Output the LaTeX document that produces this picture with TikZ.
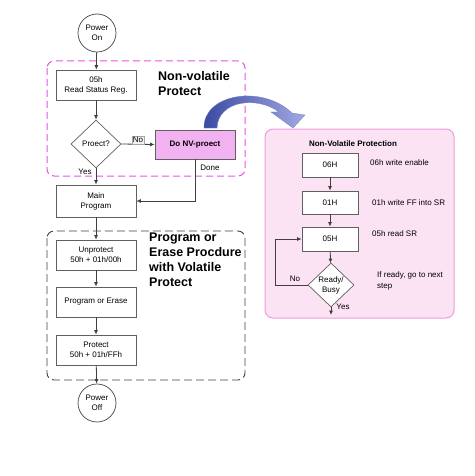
\documentclass[tikz,border=0pt]{standalone}
\usepackage{fontspec}
\setmainfont{Liberation Sans}
\usetikzlibrary{arrows.meta,shapes.geometric,calc}
\definecolor{lineg}{HTML}{404040}
\definecolor{boxg}{HTML}{606060}
\definecolor{nvpink}{HTML}{F2B2F2}
\definecolor{panelfill}{HTML}{FCE3F4}
\definecolor{paneldraw}{HTML}{EE9ADF}
\definecolor{magdash}{HTML}{E455E4}
\definecolor{arrdark}{HTML}{3A4AA2}
\definecolor{arrlight}{HTML}{A2A8E2}
\tikzset{
  box/.style={draw=boxg, line width=0.7pt, rectangle, minimum width=80pt, minimum height=30pt, align=center, inner sep=1pt, font=\fontsize{8}{10}\selectfont},
  sbox/.style={draw=boxg, line width=0.7pt, rectangle, minimum width=56pt, minimum height=24pt, align=center, inner sep=1pt, font=\fontsize{8}{10}\selectfont, fill=white},
  term/.style={draw=lineg, line width=0.7pt, circle, minimum size=38pt, inner sep=0pt, align=center, font=\fontsize{8}{10}\selectfont},
  dec/.style={draw=boxg, line width=0.7pt, diamond, inner sep=0pt, align=center, font=\fontsize{8}{10}\selectfont},
  arr/.style={draw=lineg, line width=0.8pt, -{Latex[length=4.5pt,width=4pt]}},
  lbl/.style={font=\fontsize{8}{10}\selectfont, inner sep=0pt},
  ttl/.style={font=\fontsize{12.5}{15}\selectfont\bfseries, align=left, inner sep=0pt, anchor=north west}
}
\begin{document}
\begin{tikzpicture}[x=1pt,y=-1pt]
\useasboundingbox (0,0) rectangle (474,476);
% group frames
\draw[magdash, line width=1pt, dash pattern=on 7pt off 4pt, rounded corners=7pt] (47,61) rectangle (245,176);
\draw[lineg, line width=0.9pt, dash pattern=on 8pt off 4pt, rounded corners=7pt] (47,231) rectangle (245,380);
\draw[paneldraw, fill=panelfill, line width=1pt, rounded corners=8pt] (265,129) rectangle (454,318);

% titles
\node[ttl] (t1) at (158,71) {Non-volatile\\Protect};
\node[ttl] (t2) at (149,233) {Program or\\Erase Procdure\\with Volatile\\Protect};

% left flow
\node[term] (pon) at (97,33) {Power\\On};
\node[box] (rsr) at (96,85) {05h\\Read Status Reg.};
\node[dec, minimum width=50pt, minimum height=48pt] (dq) at (96,144) {Proect?};
\node[box, fill=nvpink, minimum height=29pt, font=\fontsize{8}{10}\selectfont\bfseries] (nv) at (195,144.5) {Do NV-proect};
\node[box, minimum height=32pt] (mp) at (96,201) {Main\\Program};
\node[box] (unp) at (96,255) {Unprotect\\50h + 01h/00h};
\node[box] (poe) at (96,302) {Program or Erase};
\node[box] (prot) at (96,350) {Protect\\50h + 01h/FFh};
\node[term] (poff) at (97,403) {Power\\Off};

\draw[arr] (pon) -- (rsr);
\draw[arr] (rsr) -- (dq);
\draw[arr] (dq.east) -- (nv.west);
\draw[arr] (dq.south) -- (mp.north);
\draw[arr] (nv.south) |- (mp.east);
\draw[arr] (mp) -- (unp);
\draw[arr] (unp) -- (poe);
\draw[arr] (poe) -- (prot);
\draw[arr] (prot) -- (poff);

\node[lbl, draw=gray!70, fill=gray!10, inner sep=1pt] (lno) at (138,140) {No};
\node[lbl] (lyes) at (85,172) {Yes};
\node[lbl] (ldone) at (210,168) {Done};

% curved arrow
\shade[left color=arrdark, right color=arrlight, draw=arrdark!70, line width=0.3pt]
  (204,128) .. controls (203,94) and (262,84) .. (292,113)
  -- (305,115) -- (293,128) -- (271,112) -- (279,112)
  .. controls (258,96) and (218,100) .. (217,128) -- cycle;

% right panel
\node[lbl, font=\fontsize{8}{10}\selectfont\bfseries] (ptitle) at (353,144) {Non-Volatile Protection};
\node[sbox] (b06) at (330,165) {06H};
\node[sbox, minimum height=23pt] (b01) at (330,202.5) {01H};
\node[sbox] (b05) at (330,239) {05H};
\node[dec, fill=white, minimum width=46pt, minimum height=44pt] (rb) at (331,285) {Ready/\\Busy};
\coordinate (rbend) at (331,315);

\draw[arr] (b06) -- (b01);
\draw[arr] (b01) -- (b05);
\draw[arr] (b05) -- (rb);
\draw[arr] (rb.south) -- (rbend);
\draw[arr] (rb.west) -- ++(-32,0) |- (b05.west);

\node[lbl] (rno) at (295,279) {No};
\node[lbl] (ryes) at (343,307) {Yes};
\node[lbl, anchor=west] (a1) at (370,163) {06h write enable};
\node[lbl, anchor=west] (a2) at (372,203) {01h write FF into SR};
\node[lbl, anchor=west] (a3) at (372,234) {05h read SR};
\node[lbl, anchor=north west, align=left, font=\fontsize{8}{10.5}\selectfont] (a4) at (377,272) {If ready, go to next\\step};
\end{tikzpicture}
\end{document}
